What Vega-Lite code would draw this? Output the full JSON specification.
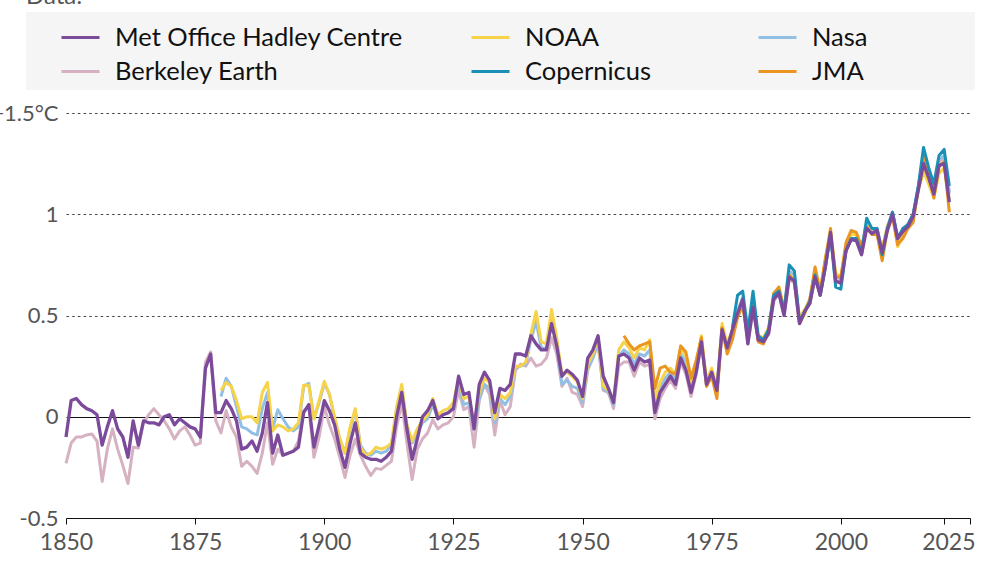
{
  "$schema": "https://vega.github.io/schema/vega-lite/v6.json",
  "width": 904,
  "height": 405,
  "autosize": "none",
  "padding": {"left": 66, "top": 113, "right": 28, "bottom": 45},
  "background": "#ffffff",
  "config": {"font": "Lato", "view": {"stroke": null}},
  "title": {"text": "Data:", "anchor": "start", "frame": "group", "dx": -40, "dy": 20, "offset": 4, "fontSize": 24, "fontWeight": "normal", "color": "#555555", "baseline": "alphabetic"},
  "data": {"values": [
    {"yr":1850,"M":-0.10,"B":-0.23},{"yr":1851,"M":0.08,"B":-0.13},{"yr":1852,"M":0.09,"B":-0.10},{"yr":1853,"M":0.06,"B":-0.10},{"yr":1854,"M":0.04,"B":-0.09},
    {"yr":1855,"M":0.03,"B":-0.085},{"yr":1856,"M":0.01,"B":-0.12},{"yr":1857,"M":-0.14,"B":-0.32},{"yr":1858,"M":-0.05,"B":-0.16},{"yr":1859,"M":0.03,"B":-0.06},
    {"yr":1860,"M":-0.06,"B":-0.16},{"yr":1861,"M":-0.10,"B":-0.24},{"yr":1862,"M":-0.20,"B":-0.33},{"yr":1863,"M":-0.02,"B":-0.15},{"yr":1864,"M":-0.14,"B":-0.155},
    {"yr":1865,"M":-0.02,"B":-0.03},{"yr":1866,"M":-0.03,"B":0.01},{"yr":1867,"M":-0.03,"B":0.04},{"yr":1868,"M":-0.04,"B":0.01},{"yr":1869,"M":0.00,"B":-0.02},
    {"yr":1870,"M":0.01,"B":-0.06},{"yr":1871,"M":-0.04,"B":-0.11},{"yr":1872,"M":-0.01,"B":-0.07},{"yr":1873,"M":-0.03,"B":-0.05},{"yr":1874,"M":-0.05,"B":-0.09},
    {"yr":1875,"M":-0.06,"B":-0.14},{"yr":1876,"M":-0.10,"B":-0.13},{"yr":1877,"M":0.24,"B":0.27},{"yr":1878,"M":0.31,"B":0.32},{"yr":1879,"M":0.02,"B":-0.02},
    {"yr":1880,"M":0.02,"B":-0.08,"N":0.13,"A":0.10},{"yr":1881,"M":0.08,"B":0.03,"N":0.17,"A":0.19},{"yr":1882,"M":0.04,"B":-0.05,"N":0.15,"A":0.15},
    {"yr":1883,"M":-0.02,"B":-0.10,"N":0.08,"A":0.05},{"yr":1884,"M":-0.16,"B":-0.245,"N":-0.01,"A":-0.05},{"yr":1885,"M":-0.15,"B":-0.22,"N":0.00,"A":-0.06},
    {"yr":1886,"M":-0.12,"B":-0.245,"N":0.00,"A":-0.08},{"yr":1887,"M":-0.17,"B":-0.28,"N":-0.03,"A":-0.09},{"yr":1888,"M":-0.08,"B":-0.18,"N":0.12,"A":0.04},
    {"yr":1889,"M":0.07,"B":-0.03,"N":0.17,"A":0.12},{"yr":1890,"M":-0.18,"B":-0.235,"N":-0.07,"A":-0.06},{"yr":1891,"M":-0.09,"B":-0.16,"N":-0.04,"A":0.035},
    {"yr":1892,"M":-0.19,"B":-0.19,"N":-0.05,"A":-0.01},{"yr":1893,"M":-0.18,"B":-0.18,"N":-0.07,"A":-0.05},{"yr":1894,"M":-0.17,"B":-0.17,"N":-0.06,"A":-0.07},
    {"yr":1895,"M":-0.15,"B":-0.12,"N":-0.03,"A":-0.05},{"yr":1896,"M":0.02,"B":0.03,"N":0.155,"A":0.15},{"yr":1897,"M":0.06,"B":0.05,"N":0.155,"A":0.165},
    {"yr":1898,"M":-0.15,"B":-0.20,"N":-0.01,"A":-0.01},{"yr":1899,"M":-0.04,"B":-0.10,"N":0.08,"A":0.07},{"yr":1900,"M":0.08,"B":0.05,"N":0.175,"A":0.165},
    {"yr":1901,"M":0.03,"B":-0.04,"N":0.11,"A":0.11},{"yr":1902,"M":-0.04,"B":-0.11,"N":0.00,"A":-0.01},{"yr":1903,"M":-0.16,"B":-0.20,"N":-0.11,"A":-0.11},
    {"yr":1904,"M":-0.25,"B":-0.30,"N":-0.18,"A":-0.18},{"yr":1905,"M":-0.13,"B":-0.19,"N":-0.05,"A":-0.06},{"yr":1906,"M":-0.03,"B":-0.11,"N":0.04,"A":0.03},
    {"yr":1907,"M":-0.18,"B":-0.19,"N":-0.15,"A":-0.14},{"yr":1908,"M":-0.20,"B":-0.245,"N":-0.19,"A":-0.18},{"yr":1909,"M":-0.21,"B":-0.29,"N":-0.18,"A":-0.19},
    {"yr":1910,"M":-0.21,"B":-0.255,"N":-0.15,"A":-0.17},{"yr":1911,"M":-0.22,"B":-0.26,"N":-0.16,"A":-0.18},{"yr":1912,"M":-0.20,"B":-0.24,"N":-0.15,"A":-0.17},
    {"yr":1913,"M":-0.17,"B":-0.22,"N":-0.13,"A":-0.14},{"yr":1914,"M":0.00,"B":-0.05,"N":0.05,"A":0.03},{"yr":1915,"M":0.12,"B":0.07,"N":0.16,"A":0.14},
    {"yr":1916,"M":-0.06,"B":-0.13,"N":-0.04,"A":-0.04},{"yr":1917,"M":-0.21,"B":-0.31,"N":-0.12,"A":-0.13},{"yr":1918,"M":-0.11,"B":-0.16,"N":-0.06,"A":-0.08},
    {"yr":1919,"M":0.00,"B":-0.11,"N":-0.02,"A":-0.03},{"yr":1920,"M":0.03,"B":-0.08,"N":0.01,"A":-0.01},{"yr":1921,"M":0.08,"B":-0.015,"N":0.09,"A":0.06},
    {"yr":1922,"M":-0.01,"B":-0.06,"N":0.01,"A":-0.01},{"yr":1923,"M":0.01,"B":-0.04,"N":0.03,"A":0.01},{"yr":1924,"M":0.02,"B":-0.03,"N":0.04,"A":0.02},
    {"yr":1925,"M":0.04,"B":0.00,"N":0.07,"A":0.05},{"yr":1926,"M":0.20,"B":0.13,"N":0.19,"A":0.17},{"yr":1927,"M":0.11,"B":0.035,"N":0.09,"A":0.06},
    {"yr":1928,"M":0.12,"B":0.05,"N":0.10,"A":0.07},{"yr":1929,"M":-0.06,"B":-0.15,"N":-0.04,"A":-0.06},{"yr":1930,"M":0.16,"B":0.08,"N":0.12,"A":0.09},
    {"yr":1931,"M":0.22,"B":0.16,"N":0.19,"A":0.16},{"yr":1932,"M":0.18,"B":0.11,"N":0.17,"A":0.14},{"yr":1933,"M":0.02,"B":-0.09,"N":-0.01,"A":-0.03},
    {"yr":1934,"M":0.14,"B":0.08,"N":0.11,"A":0.09},{"yr":1935,"M":0.13,"B":0.01,"N":0.09,"A":0.06},{"yr":1936,"M":0.16,"B":0.05,"N":0.12,"A":0.10},
    {"yr":1937,"M":0.31,"B":0.23,"N":0.25,"A":0.24},{"yr":1938,"M":0.31,"B":0.26,"N":0.25,"A":0.25},{"yr":1939,"M":0.30,"B":0.25,"N":0.27,"A":0.26},
    {"yr":1940,"M":0.40,"B":0.29,"N":0.41,"A":0.38},{"yr":1941,"M":0.36,"B":0.25,"N":0.52,"A":0.47},{"yr":1942,"M":0.33,"B":0.26,"N":0.37,"A":0.34},
    {"yr":1943,"M":0.33,"B":0.29,"N":0.36,"A":0.34},{"yr":1944,"M":0.46,"B":0.39,"N":0.53,"A":0.48},{"yr":1945,"M":0.35,"B":0.31,"N":0.39,"A":0.36},
    {"yr":1946,"M":0.20,"B":0.15,"N":0.21,"A":0.16},{"yr":1947,"M":0.23,"B":0.19,"N":0.22,"A":0.18},{"yr":1948,"M":0.21,"B":0.12,"N":0.20,"A":0.15},
    {"yr":1949,"M":0.18,"B":0.11,"N":0.17,"A":0.14},{"yr":1950,"M":0.10,"B":0.05,"N":0.09,"A":0.07},{"yr":1951,"M":0.29,"B":0.23,"N":0.26,"A":0.24},
    {"yr":1952,"M":0.33,"B":0.29,"N":0.31,"A":0.29},{"yr":1953,"M":0.40,"B":0.36,"N":0.39,"A":0.37},{"yr":1954,"M":0.20,"B":0.13,"N":0.15,"A":0.14},
    {"yr":1955,"M":0.14,"B":0.12,"N":0.13,"A":0.12},{"yr":1956,"M":0.07,"B":0.04,"N":0.07,"A":0.06},{"yr":1957,"M":0.30,"B":0.25,"N":0.33,"A":0.30},
    {"yr":1958,"M":0.31,"B":0.27,"N":0.37,"A":0.33,"J":0.40},{"yr":1959,"M":0.29,"B":0.27,"N":0.34,"A":0.31,"J":0.36},{"yr":1960,"M":0.23,"B":0.20,"N":0.29,"A":0.26,"J":0.33},
    {"yr":1961,"M":0.29,"B":0.27,"N":0.34,"A":0.31,"J":0.35},{"yr":1962,"M":0.27,"B":0.25,"N":0.33,"A":0.30,"J":0.36},{"yr":1963,"M":0.28,"B":0.26,"N":0.38,"A":0.33,"J":0.37},
    {"yr":1964,"M":0.02,"B":-0.01,"N":0.085,"A":0.05,"J":0.14},{"yr":1965,"M":0.12,"B":0.09,"N":0.17,"A":0.14,"J":0.24},{"yr":1966,"M":0.16,"B":0.14,"N":0.22,"A":0.19,"J":0.25},
    {"yr":1967,"M":0.20,"B":0.18,"N":0.24,"A":0.22,"J":0.22},{"yr":1968,"M":0.16,"B":0.14,"N":0.21,"A":0.18,"J":0.21},{"yr":1969,"M":0.29,"B":0.27,"N":0.34,"A":0.31,"J":0.35},
    {"yr":1970,"M":0.23,"B":0.21,"N":0.30,"A":0.27,"J":0.32},{"yr":1971,"M":0.12,"B":0.10,"N":0.17,"A":0.15,"J":0.19},{"yr":1972,"M":0.22,"B":0.21,"N":0.26,"A":0.24,"J":0.28},
    {"yr":1973,"M":0.37,"B":0.36,"N":0.40,"A":0.38,"J":0.39},{"yr":1974,"M":0.16,"B":0.15,"N":0.18,"A":0.17,"J":0.15},{"yr":1975,"M":0.22,"B":0.21,"N":0.24,"A":0.22,"J":0.20},
    {"yr":1976,"M":0.13,"B":0.12,"N":0.14,"A":0.13,"J":0.09},{"yr":1977,"M":0.43,"B":0.42,"N":0.46,"A":0.44,"J":0.44},{"yr":1978,"M":0.34,"B":0.33,"N":0.36,"A":0.35,"J":0.31},
    {"yr":1979,"M":0.43,"B":0.42,"N":0.43,"A":0.43,"J":0.38,"C":0.44},{"yr":1980,"M":0.51,"B":0.50,"N":0.50,"A":0.52,"J":0.49,"C":0.60},
    {"yr":1981,"M":0.58,"B":0.57,"N":0.55,"A":0.59,"J":0.55,"C":0.62},{"yr":1982,"M":0.36,"B":0.36,"N":0.40,"A":0.38,"J":0.39,"C":0.42},
    {"yr":1983,"M":0.54,"B":0.53,"N":0.56,"A":0.57,"J":0.56,"C":0.62},{"yr":1984,"M":0.38,"B":0.38,"N":0.40,"A":0.39,"J":0.37,"C":0.40},
    {"yr":1985,"M":0.37,"B":0.37,"N":0.39,"A":0.38,"J":0.36,"C":0.38},{"yr":1986,"M":0.41,"B":0.41,"N":0.44,"A":0.43,"J":0.42,"C":0.43},
    {"yr":1987,"M":0.58,"B":0.57,"N":0.60,"A":0.59,"J":0.61,"C":0.60},{"yr":1988,"M":0.61,"B":0.61,"N":0.64,"A":0.62,"J":0.64,"C":0.62},
    {"yr":1989,"M":0.50,"B":0.50,"N":0.53,"A":0.52,"J":0.53,"C":0.52},{"yr":1990,"M":0.69,"B":0.68,"N":0.70,"A":0.72,"J":0.70,"C":0.75},
    {"yr":1991,"M":0.67,"B":0.66,"N":0.68,"A":0.70,"J":0.67,"C":0.72},{"yr":1992,"M":0.46,"B":0.46,"N":0.49,"A":0.48,"J":0.46,"C":0.47},
    {"yr":1993,"M":0.52,"B":0.52,"N":0.53,"A":0.52,"J":0.51,"C":0.52},{"yr":1994,"M":0.56,"B":0.56,"N":0.58,"A":0.58,"J":0.58,"C":0.57},
    {"yr":1995,"M":0.69,"B":0.69,"N":0.71,"A":0.72,"J":0.74,"C":0.70},{"yr":1996,"M":0.60,"B":0.60,"N":0.62,"A":0.62,"J":0.62,"C":0.60},
    {"yr":1997,"M":0.74,"B":0.74,"N":0.78,"A":0.76,"J":0.78,"C":0.74},{"yr":1998,"M":0.91,"B":0.90,"N":0.91,"A":0.90,"J":0.93,"C":0.90},
    {"yr":1999,"M":0.67,"B":0.67,"N":0.71,"A":0.69,"J":0.69,"C":0.64},{"yr":2000,"M":0.66,"B":0.66,"N":0.69,"A":0.68,"J":0.69,"C":0.63},
    {"yr":2001,"M":0.82,"B":0.82,"N":0.84,"A":0.83,"J":0.86,"C":0.82},{"yr":2002,"M":0.875,"B":0.88,"N":0.90,"A":0.91,"J":0.92,"C":0.88},
    {"yr":2003,"M":0.87,"B":0.87,"N":0.90,"A":0.90,"J":0.91,"C":0.88},{"yr":2004,"M":0.80,"B":0.80,"N":0.83,"A":0.83,"J":0.84,"C":0.81},
    {"yr":2005,"M":0.93,"B":0.94,"N":0.95,"A":0.96,"J":0.94,"C":0.98},{"yr":2006,"M":0.905,"B":0.91,"N":0.91,"A":0.92,"J":0.90,"C":0.93},
    {"yr":2007,"M":0.92,"B":0.93,"N":0.90,"A":0.93,"J":0.90,"C":0.93},{"yr":2008,"M":0.81,"B":0.82,"N":0.83,"A":0.82,"J":0.77,"C":0.80},
    {"yr":2009,"M":0.92,"B":0.93,"N":0.94,"A":0.94,"J":0.92,"C":0.93},{"yr":2010,"M":1.00,"B":1.01,"N":1.00,"A":1.01,"J":0.99,"C":1.01},
    {"yr":2011,"M":0.88,"B":0.88,"N":0.84,"A":0.89,"J":0.85,"C":0.88},{"yr":2012,"M":0.915,"B":0.92,"N":0.91,"A":0.92,"J":0.88,"C":0.93},
    {"yr":2013,"M":0.94,"B":0.95,"N":0.95,"A":0.95,"J":0.93,"C":0.95},{"yr":2014,"M":0.99,"B":1.00,"N":0.98,"A":1.00,"J":0.96,"C":1.00},
    {"yr":2015,"M":1.12,"B":1.13,"N":1.12,"A":1.14,"J":1.13,"C":1.14},{"yr":2016,"M":1.25,"B":1.27,"N":1.21,"A":1.28,"J":1.29,"C":1.33},
    {"yr":2017,"M":1.18,"B":1.19,"N":1.15,"A":1.20,"J":1.20,"C":1.23},{"yr":2018,"M":1.10,"B":1.12,"N":1.08,"A":1.13,"J":1.08,"C":1.15},
    {"yr":2019,"M":1.24,"B":1.26,"N":1.20,"A":1.27,"J":1.24,"C":1.29},{"yr":2020,"M":1.25,"B":1.28,"N":1.23,"A":1.29,"J":1.26,"C":1.32},
    {"yr":2021,"M":1.06,"B":1.10,"N":1.07,"A":1.11,"J":1.01,"C":1.14}
  ]},
  "transform": [
    {"fold": ["B", "A", "N", "J", "C", "M"], "as": ["series", "value"]},
    {"filter": "isValid(datum.value)"}
  ],
  "encoding": {
    "x": {
      "field": "yr", "type": "quantitative",
      "scale": {"domain": [1850, 2025], "nice": false, "zero": false},
      "axis": {
        "title": null, "grid": false,
        "values": [1850, 1875, 1900, 1925, 1950, 1975, 2000, 2020, 2025],
        "format": "d",
        "labelExpr": "datum.value == 2020 ? '' : datum.label",
        "domainColor": "#111111", "domainWidth": 1.2,
        "tickColor": "#111111", "tickSize": 6, "tickWidth": 1,
        "labelFontSize": 23, "labelColor": "#555555", "labelPadding": 7,
        "labelAlign": {"condition": {"test": "datum.value == 2025", "value": "right"}, "value": "center"},
        "labelOffset": {"condition": {"test": "datum.value == 2025", "value": 5}, "value": 0}
      }
    },
    "y": {
      "field": "value", "type": "quantitative",
      "scale": {"domain": [-0.5, 1.5], "nice": false, "zero": false},
      "axis": {
        "title": null, "domain": false, "ticks": false,
        "values": [-0.5, 0, 0.5, 1, 1.5],
        "labelExpr": "datum.value == 1.5 ? '+1.5°C' : datum.value == 1 ? '1' : datum.value == 0.5 ? '0.5' : datum.value == 0 ? '0' : '-0.5'",
        "labelFontSize": 22, "labelColor": "#555555", "labelPadding": 8,
        "grid": true,
        "gridColor": {"condition": {"test": "datum.value == 0", "value": "#111111"}, "value": "#444444"},
        "gridDash": {"condition": {"test": "datum.value == 0", "value": []}, "value": [2.5, 3.2]},
        "gridWidth": {"condition": {"test": "datum.value == 0", "value": 1.2}, "value": 1},
        "gridOpacity": {"condition": {"test": "datum.value == -0.5", "value": 0}, "value": 1}
      }
    },
    "color": {
      "field": "series", "type": "nominal",
      "scale": {"domain": ["M", "N", "A", "B", "C", "J"], "range": ["#7b4a9b", "#f6d349", "#92bfe4", "#d6b1c2", "#1a90b6", "#e9951f"]},
      "legend": {
        "orient": "none", "legendX": -40, "legendY": -101,
        "columns": 3, "direction": "horizontal",
        "title": "\u00a0", "titleOrient": "left", "titleFontSize": 1, "titlePadding": 29,
        "symbolType": "stroke", "symbolSize": 1444, "symbolStrokeWidth": 3,
        "labelFontSize": 25.5, "labelColor": "#111111", "labelOffset": 14, "labelLimit": 0,
        "rowPadding": -4, "columnPadding": 62, "padding": 5,
        "fillColor": "#f5f5f5", "strokeColor": null,
        "labelExpr": "datum.value == 'M' ? 'Met Office Hadley Centre' : datum.value == 'N' ? 'NOAA' : datum.value == 'A' ? 'Nasa\u00a0\u2800\u2800\u2800\u2800\u2800' : datum.value == 'B' ? 'Berkeley Earth' : datum.value == 'C' ? 'Copernicus\u2800\u2800' : 'JMA'"
      }
    }
  },
  "layer": [
    {"transform": [{"filter": "datum.series != 'M'"}], "mark": {"type": "line", "strokeWidth": 3, "strokeJoin": "round"}},
    {"transform": [{"filter": "datum.series == 'M'"}], "mark": {"type": "line", "strokeWidth": 3.3, "strokeJoin": "round"}}
  ]
}
